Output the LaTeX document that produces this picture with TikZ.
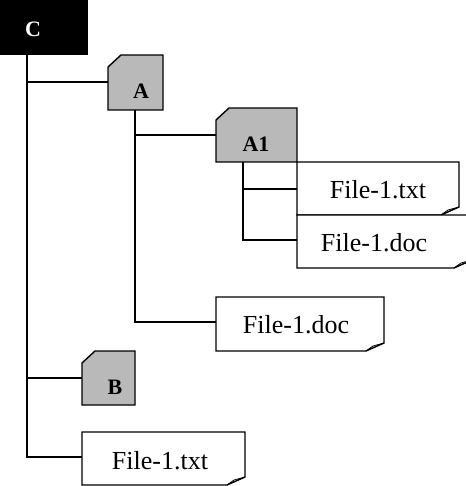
\documentclass[tikz,border=0pt]{standalone}
\usepackage{fontspec}
\setmainfont{Liberation Serif}
\begin{document}
\begin{tikzpicture}[x=1pt,y=-1pt,line width=1.4pt,
  ftxt/.style={font=\fontsize{26}{28}\selectfont, inner sep=0},
  dtxt/.style={font=\bfseries\fontsize{22}{24}\selectfont, inner sep=0}]
\useasboundingbox (0,0) rectangle (465,486);
\newcommand{\fileshape}[4]{%
  \draw[fill=white] (#1,#2) -- (#3,#2) -- (#3,#4-8) -- (#3-18,#4) -- (#1,#4) -- cycle;
  \draw[line width=0.8pt] (#3-18,#4) -- (#3-11,#4-5) -- (#3,#4-8);}
\newcommand{\foldshape}[4]{%
  \draw[fill=gray!55] (#1,#2+12) -- (#1+13,#2) -- (#3,#2) -- (#3,#4) -- (#1,#4) -- cycle;}
% C
\fill[black] (0,0) rectangle (88,55);
\node[dtxt,text=white] (c) at (33,29) {C};
% folders
\foldshape{108}{55}{163}{110}
\node[dtxt] (a) at (141,91) {A};
\foldshape{216}{108}{297}{162}
\node[dtxt] (a1) at (256,144) {A1};
\foldshape{82}{351}{135}{405}
\node[dtxt] (b) at (115,387) {B};
% files
\fileshape{297}{162}{459}{215}
\node[ftxt] (f1) at (378,190) {File-1.txt};
\fileshape{297}{215}{472}{268}
\node[ftxt] (f2) at (374,243) {File-1.doc};
\fileshape{216}{297}{384}{351}
\node[ftxt] (f3) at (296,325) {File-1.doc};
\fileshape{82}{432}{245}{485}
\node[ftxt] (f4) at (160,461) {File-1.txt};
% connectors
\coordinate (ct) at (27,55);
\coordinate (at) at (135,110);
\coordinate (a1t) at (243,162);
\draw (ct) |- (108,82);
\draw (ct) |- (82,378);
\draw (ct) |- (82,457);
\draw (at) |- (216,135);
\draw (at) |- (216,322);
\draw (a1t) |- (297,189);
\draw (a1t) |- (297,240);
\end{tikzpicture}
\end{document}
